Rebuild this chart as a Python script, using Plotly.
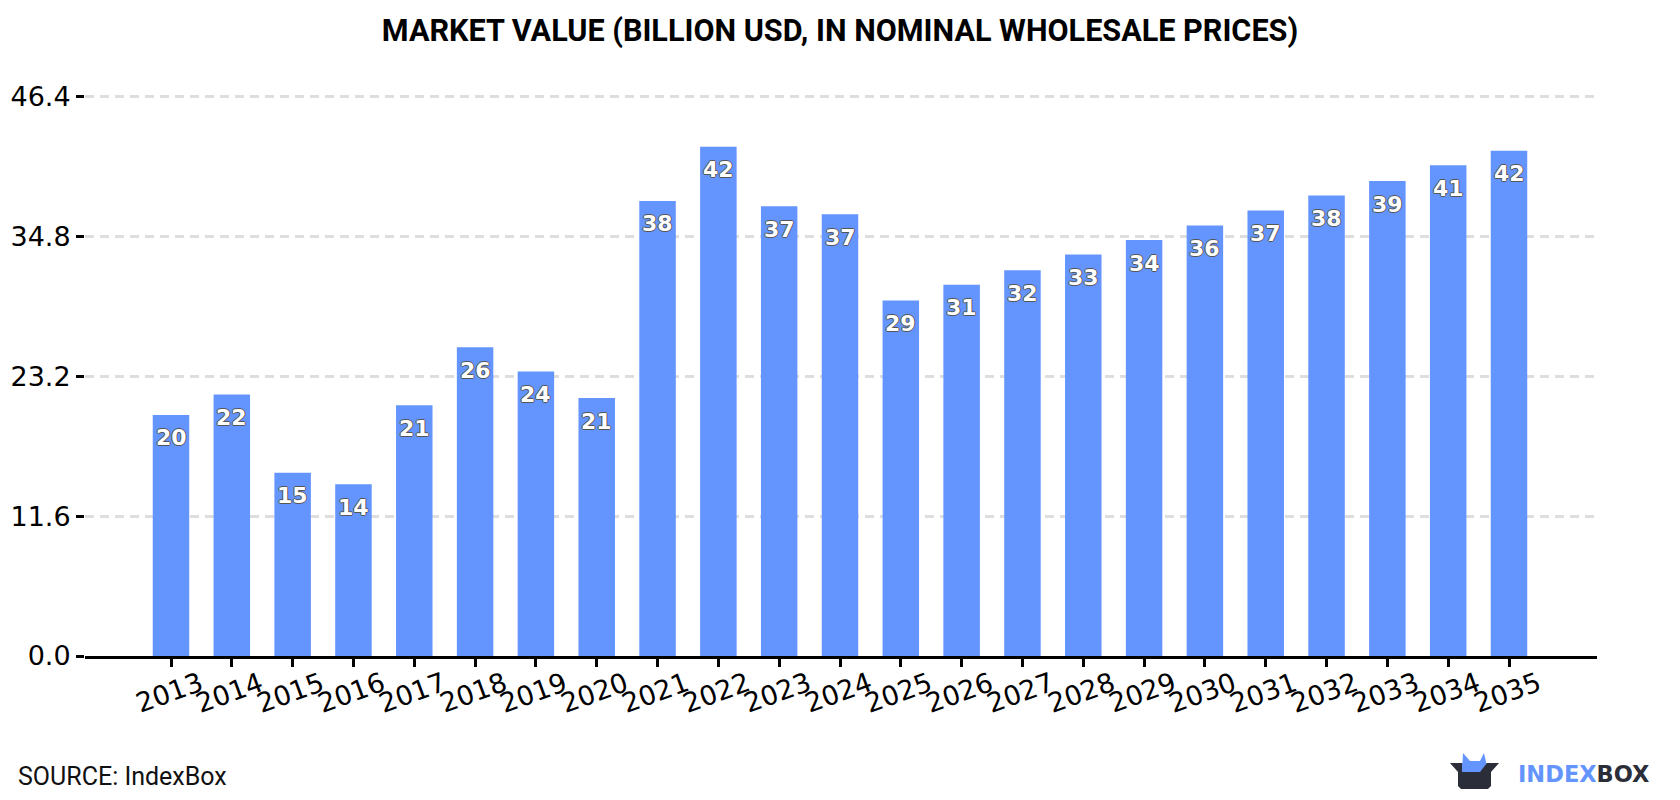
import plotly.graph_objects as go

# Market value, billion USD
years = [2013, 2014, 2015, 2016, 2017, 2018, 2019, 2020, 2021, 2022, 2023, 2024,
         2025, 2026, 2027, 2028, 2029, 2030, 2031, 2032, 2033, 2034, 2035]
values = [20.0, 21.7, 15.2, 14.25, 20.8, 25.6, 23.6, 21.4, 37.75, 42.25, 37.3, 36.65,
          29.48, 30.8, 32.0, 33.3, 34.5, 35.7, 36.95, 38.2, 39.4, 40.7, 41.9]
y_ticks = [0.0, 11.6, 23.2, 34.8, 46.4]

W, H = 1680, 800
LEFT, RIGHT, BOTTOM = 85, 83, 144
PX_PER_UNIT = 12.054
# Headroom above the top tick keeps its gridline inside the plot area
Y_MAX = 46.7
TOP = H - BOTTOM - PX_PER_UNIT * Y_MAX
BLUE = "#6495FF"
DARK = "#2B2D38"


def px(x):
    return (x - LEFT) / (W - LEFT - RIGHT)


def py(y):
    return (H - BOTTOM - y) / (H - TOP - BOTTOM)


def poly(points, color):
    path = "M" + " L".join(f"{px(a):.5f},{py(b):.5f}" for a, b in points) + " Z"
    return dict(type="path", xref="paper", yref="paper", path=path,
                fillcolor=color, line=dict(width=0), layer="above")


fig = go.Figure(go.Bar(
    x=years, y=values, width=0.6, marker=dict(color=BLUE, line=dict(width=0)),
    hoverinfo="x+y",
))

# Value labels sit just under the top of each bar
outline = "-1px 0 0 #555, 1px 0 0 #555, 0 -1px 0 #555, 0 1px 0 #555"
label_annotations = [
    dict(x=yr, y=v, xref="x", yref="y", yshift=-23, text=f"{v:.0f}", showarrow=False,
         font=dict(family="DejaVu Sans", size=22, color="white", weight="bold", shadow=outline))
    for yr, v in zip(years, values)
]

# Year labels are rotated about their centres, just below each tick
year_annotations = [
    dict(x=yr, y=0, xref="x", yref="y", yshift=-36.5, xshift=-2, text=str(yr), textangle=-20,
         showarrow=False, font=dict(family="DejaVu Sans", size=27, color="black"))
    for yr in years
]

# Brand text in the lower right corner
brand = dict(xref="paper", yref="paper", x=px(1516), y=py(773.5), xanchor="left", yanchor="middle",
             showarrow=False,
             text=f'<span style="color:{BLUE}">INDEX</span><span style="color:{DARK}">BOX</span>',
             font=dict(family="DejaVu Sans", size=22.5, weight="bold"))
source = dict(xref="paper", yref="paper", x=px(16), y=py(776), xanchor="left", yanchor="middle",
              showarrow=False, text="SOURCE: IndexBox",
              font=dict(family="Roboto", size=25, color="#111"))

logo = [
    poly([(1462, 772), (1463, 753), (1470, 761), (1480, 761), (1484, 753), (1487, 766), (1475, 772)], BLUE),
    poly([(1450, 763), (1499, 763), (1491, 772), (1491, 786), (1488, 789), (1461, 789), (1458, 786),
          (1458, 772)], DARK),
    poly([(1462, 763), (1487, 763), (1480, 772), (1462, 772)], BLUE),
]

fig.update_layout(
    width=W, height=H,
    margin=dict(l=LEFT, r=RIGHT, t=TOP, b=BOTTOM, autoexpand=False),
    paper_bgcolor="white", plot_bgcolor="white",
    showlegend=False,
    title=dict(text="<b>MARKET VALUE (BILLION USD, IN NOMINAL WHOLESALE PRICES)</b>",
               x=0.5, xanchor="center", y=1 - 30 / H, yanchor="middle",
               font=dict(family="Roboto", size=30.6, color="black")),
    xaxis=dict(type="linear", range=[2013 - 1.414, 2035 + 1.447], tickmode="array",
               tickvals=years, showticklabels=False,
               ticks="outside", ticklen=8, tickwidth=2.5, tickcolor="black",
               showgrid=False, showline=True, linecolor="black", linewidth=3, zeroline=False),
    yaxis=dict(range=[0, Y_MAX], tickmode="array", tickvals=y_ticks,
               ticktext=[f"{t:.1f}" for t in y_ticks],
               ticks="outside", ticklen=8, tickwidth=2.5, tickcolor="black",
               showline=False, zeroline=False, showgrid=True,
               gridcolor="#DEDEDE", gridwidth=2.5, griddash="9px,6px",
               tickfont=dict(family="DejaVu Sans", size=27, color="black")),
    annotations=label_annotations + year_annotations + [source, brand],
    shapes=logo,
)

fig.write_html("out.html", config=dict(displayModeBar=False))
